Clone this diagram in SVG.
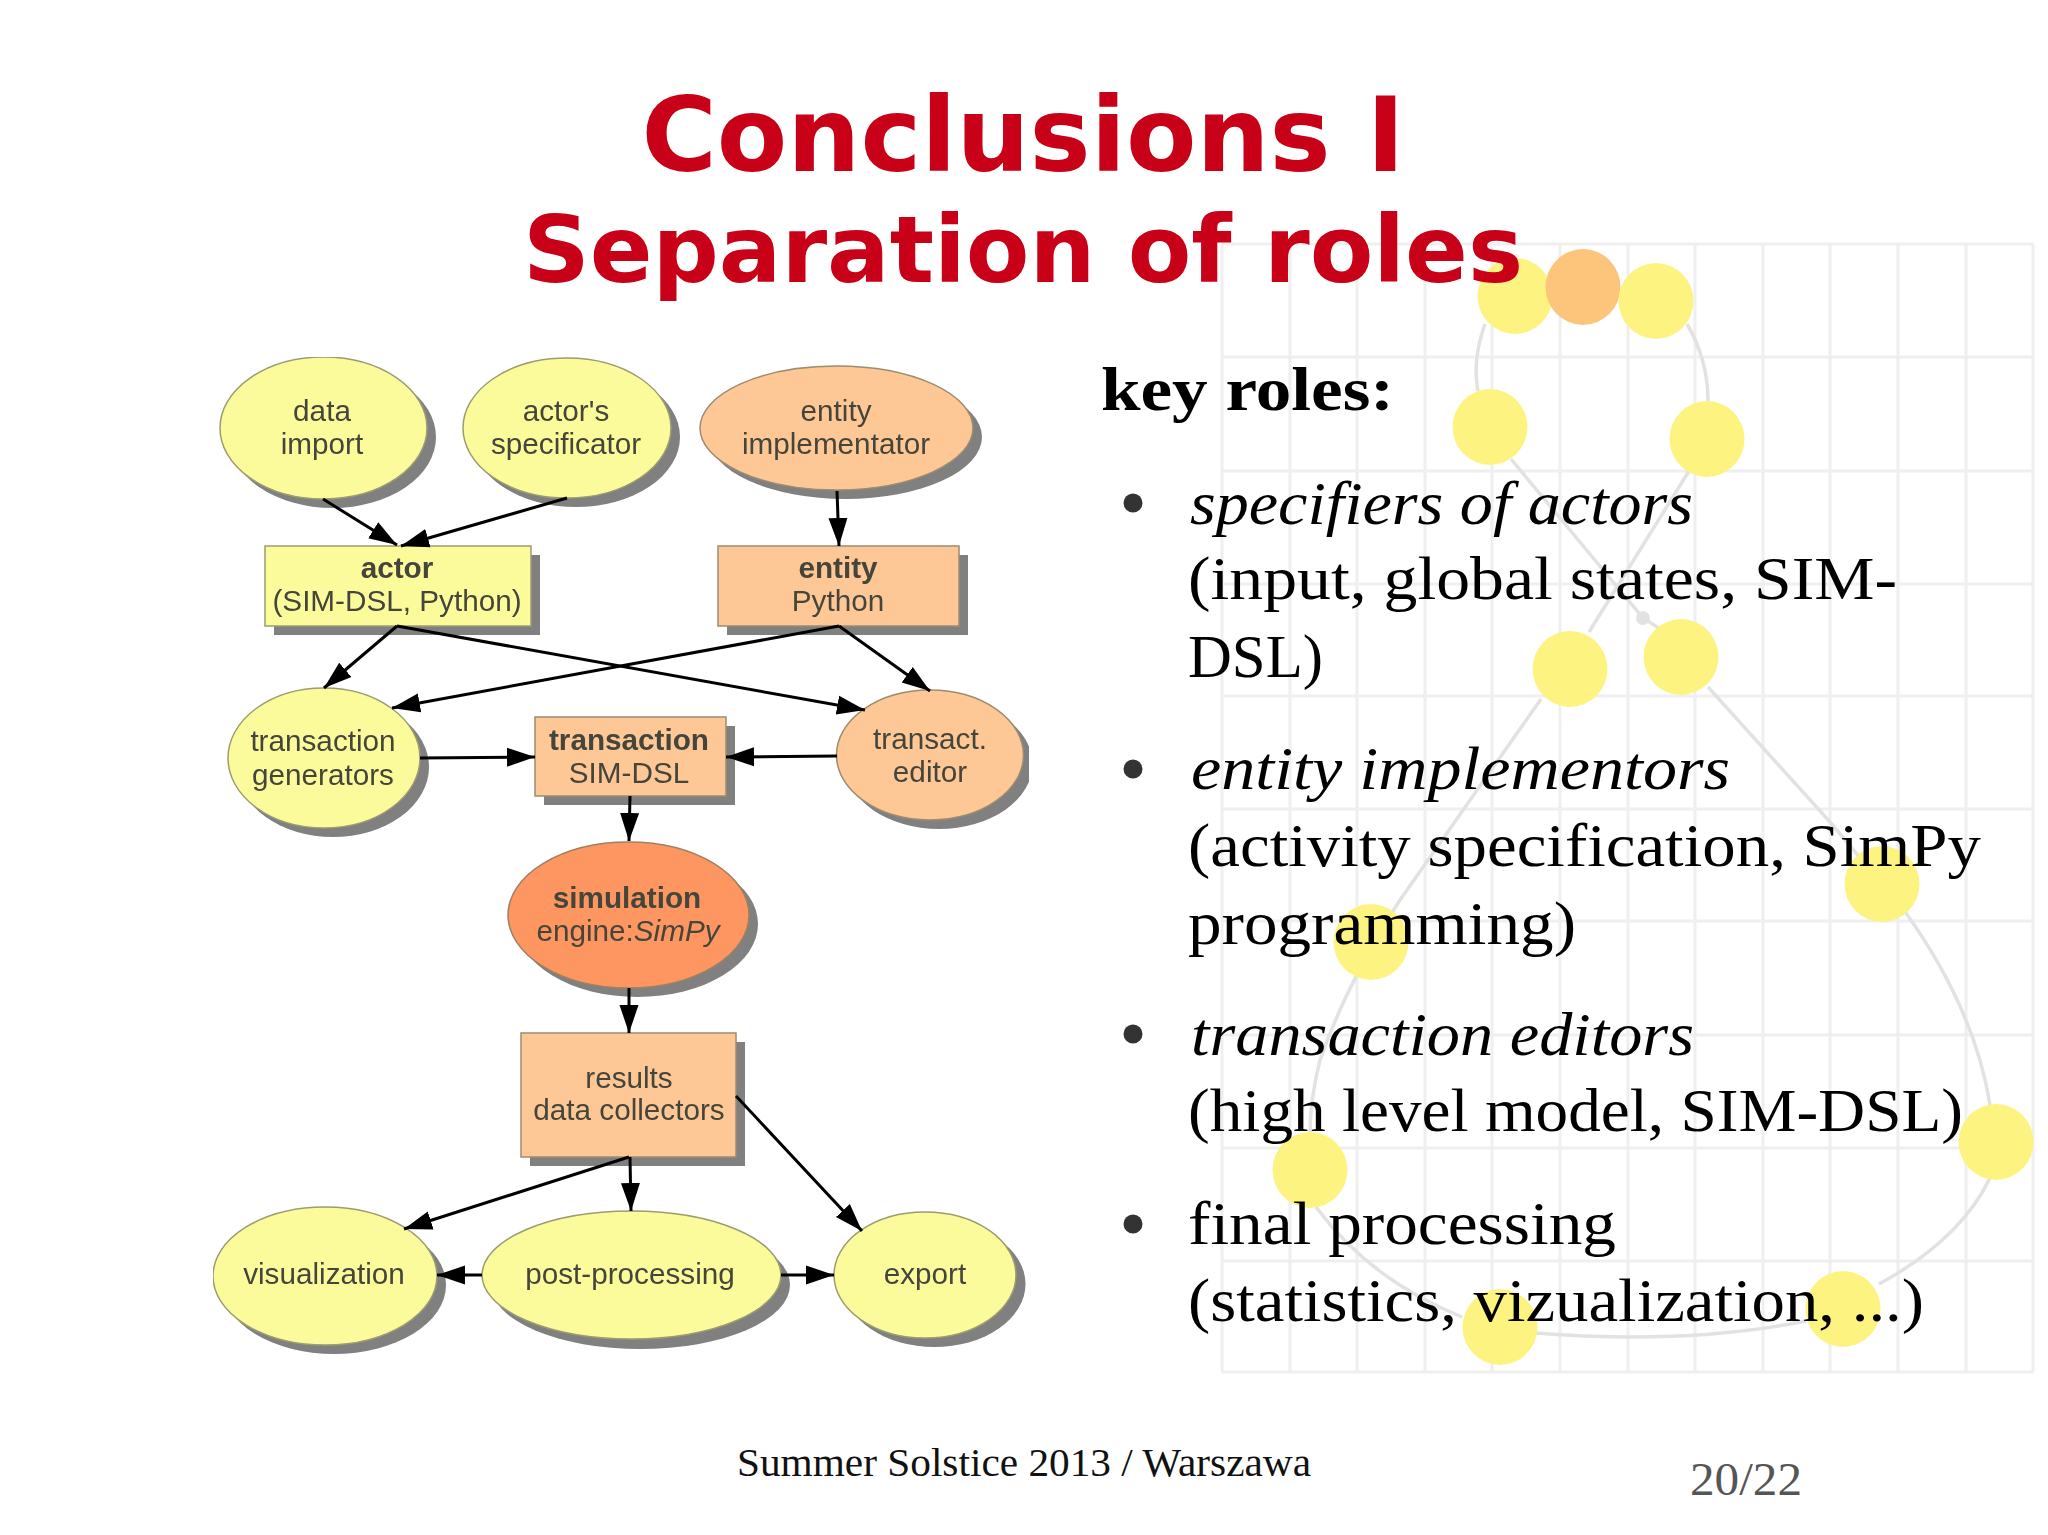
<svg xmlns="http://www.w3.org/2000/svg" width="2048" height="1535" viewBox="0 0 2048 1535">
<style>
.bgl{stroke:#efefef;stroke-width:3;fill:none}
.cv{stroke:#e2e2e2;stroke-width:3.5;fill:none}
.by{fill:#fdf380}
.sh{fill:#808080}
.y{fill:#fbfb9c;stroke:#9c9c70;stroke-width:1.5}
.o{fill:#fdc896;stroke:#9c8c70;stroke-width:1.5}
.s{fill:#fd9660;stroke:#a08060;stroke-width:1.5}
.n{font-family:"Liberation Sans",Arial,sans-serif;font-size:29.700px;fill:#45453a;text-anchor:middle}
.b{font-weight:bold}
.c{stroke:#000;stroke-width:3;fill:none;marker-end:url(#a)}
.t{font-family:"DejaVu Sans",sans-serif;font-weight:bold;fill:#c80018;text-anchor:middle}
.r{font-family:"Liberation Serif",serif;font-size:62px;fill:#000}
.i{font-style:italic}
</style>
<defs>
<marker id="a" markerUnits="userSpaceOnUse" markerWidth="30" markerHeight="22" refX="28" refY="10" orient="auto"><path d="M0 0.500L28 10L0 19.500Z" fill="#000"/></marker>
<clipPath id="cp"><rect x="0" y="0" width="1029" height="1535"/></clipPath>
<filter id="soft" x="0" y="0" width="100%" height="100%"><feGaussianBlur stdDeviation="0.5"/></filter>
</defs>
<rect width="2048" height="1535" fill="#fff"/>
<g id="background">
<path class="bgl" d="M1222 244H2033M1222 357H2033M1222 471H2033M1222 584H2033M1222 696H2033M1222 809H2033M1222 921H2033M1222 1035H2033M1222 1148H2033M1222 1261H2033M1222 1372H2033"/>
<path class="bgl" d="M1222 244V1372M1290 244V1372M1357 244V1372M1425 244V1372M1492 244V1372M1560 244V1372M1628 244V1372M1695 244V1372M1763 244V1372M1830 244V1372M1898 244V1372M1966 244V1372M2033 244V1372"/>
<path class="cv" d="M1485 324Q1472 360 1478 391"/>
<path class="cv" d="M1687 324Q1708 360 1708 401"/>
<path class="cv" d="M1511 459L1643 618L1665 632"/>
<path class="cv" d="M1689 471L1589 632"/>
<path class="cv" d="M1541 699L1400 900Q1346 985 1320 1060Q1310 1100 1310 1133"/>
<path class="cv" d="M1708 687L1830 822L1906 913Q1975 1010 1990 1105"/>
<path class="cv" d="M1990 1178Q1960 1240 1879 1284"/>
<path class="cv" d="M1316 1207Q1370 1280 1462 1317"/>
<path class="cv" d="M1535 1333Q1687 1345 1806 1321"/>
<circle cx="1643" cy="618" r="7" fill="#e2e2e2"/>
<ellipse class="by" cx="1515" cy="296" rx="37.500" ry="38"/>
<ellipse cx="1583" cy="287" rx="37.500" ry="38" fill="#fdc47c"/>
<ellipse class="by" cx="1656" cy="301" rx="37.500" ry="38"/>
<ellipse class="by" cx="1490" cy="427" rx="37.500" ry="38"/>
<ellipse class="by" cx="1707" cy="439" rx="37.500" ry="38"/>
<ellipse class="by" cx="1570" cy="669" rx="37.500" ry="38"/>
<ellipse class="by" cx="1681" cy="657" rx="37.500" ry="38"/>
<ellipse class="by" cx="1882" cy="884" rx="37.500" ry="38"/>
<ellipse class="by" cx="1371" cy="942" rx="37.500" ry="38"/>
<ellipse class="by" cx="1310" cy="1170" rx="37.500" ry="38"/>
<ellipse class="by" cx="1996" cy="1142" rx="37.500" ry="38"/>
<ellipse class="by" cx="1500" cy="1327" rx="37.500" ry="38"/>
<ellipse class="by" cx="1843" cy="1309" rx="37.500" ry="38"/>
</g>
<g id="title">
<text class="t" x="1023" y="171" font-size="102.700">Conclusions I</text>
<text class="t" x="1023" y="282" font-size="92.700">Separation of roles</text>
</g>
<g clip-path="url(#cp)" filter="url(#soft)">
<g id="data-import"><ellipse class="sh" cx="332.500" cy="437" rx="103.500" ry="71"/><ellipse class="y" cx="323.500" cy="428" rx="103.500" ry="71"/><text class="n" x="322" y="421">data</text><text class="n" x="322" y="454">import</text></g>
<g id="actors-specificator"><ellipse class="sh" cx="576" cy="437" rx="104" ry="70"/><ellipse class="y" cx="567" cy="428" rx="104" ry="70"/><text class="n" x="566" y="421">actor's</text><text class="n" x="566" y="454">specificator</text></g>
<g id="entity-implementator"><ellipse class="sh" cx="845.500" cy="437" rx="136.500" ry="62"/><ellipse class="o" cx="836.500" cy="428" rx="136.500" ry="62"/><text class="n" x="836" y="421">entity</text><text class="n" x="836" y="454">implementator</text></g>
<g id="actor"><rect class="sh" x="274" y="555" width="266" height="80"/><rect class="y" x="265" y="546" width="266" height="80"/><text class="n b" x="397" y="578">actor</text><text class="n" x="397" y="611">(SIM-DSL, Python)</text></g>
<g id="entity"><rect class="sh" x="727" y="555" width="241" height="80"/><rect class="o" x="718" y="546" width="241" height="80"/><text class="n b" x="838" y="578">entity</text><text class="n" x="838" y="611">Python</text></g>
<g id="transaction-generators"><ellipse class="sh" cx="333" cy="767" rx="96" ry="70"/><ellipse class="y" cx="324" cy="758" rx="96" ry="70"/><text class="n" x="323" y="751">transaction</text><text class="n" x="323" y="785">generators</text></g>
<g id="transaction"><rect class="sh" x="544" y="726" width="191" height="79"/><rect class="o" x="535" y="717" width="191" height="79"/><text class="n b" x="629" y="750">transaction</text><text class="n" x="629" y="783">SIM-DSL</text></g>
<g id="transact-editor"><ellipse class="sh" cx="939" cy="764" rx="93.500" ry="65"/><ellipse class="o" cx="930" cy="755" rx="93.500" ry="65"/><text class="n" x="930" y="749">transact.</text><text class="n" x="930" y="782">editor</text></g>
<g id="simulation"><ellipse class="sh" cx="637.500" cy="924" rx="120.500" ry="73"/><ellipse class="s" cx="628.500" cy="915" rx="120.500" ry="73"/><text class="n b" x="627" y="908">simulation</text><text class="n" x="628" y="941">engine:<tspan font-style="italic">SimPy</tspan></text></g>
<g id="results"><rect class="sh" x="530" y="1042" width="215" height="124"/><rect class="o" x="521" y="1033" width="215" height="124"/><text class="n" x="629" y="1088">results</text><text class="n" x="629" y="1120">data collectors</text></g>
<g id="visualization"><ellipse class="sh" cx="334" cy="1285" rx="112" ry="69"/><ellipse class="y" cx="325" cy="1276" rx="112" ry="69"/><text class="n" x="324" y="1284">visualization</text></g>
<g id="post-processing"><ellipse class="sh" cx="640.500" cy="1285" rx="149.500" ry="64"/><ellipse class="y" cx="631.500" cy="1275" rx="149.500" ry="64"/><text class="n" x="630" y="1284">post-processing</text></g>
<g id="export"><ellipse class="sh" cx="934.500" cy="1284" rx="91" ry="63"/><ellipse class="y" cx="925" cy="1275" rx="91" ry="63"/><text class="n" x="925" y="1284">export</text></g>
<g id="connectors">
<path class="c" d="M323 499L397 545"/>
<path class="c" d="M567 498L401 546"/>
<path class="c" d="M837 491L839 546"/>
<path class="c" d="M397 626L324 688"/>
<path class="c" d="M397 626L865 710"/>
<path class="c" d="M839 626L392 708"/>
<path class="c" d="M839 626L930 691"/>
<path class="c" d="M420 758L535 757"/>
<path class="c" d="M837 756L726 757"/>
<path class="c" d="M630 796L629 841"/>
<path class="c" d="M629 988L629 1033"/>
<path class="c" d="M629 1157L404 1229"/>
<path class="c" d="M630 1157L631 1211"/>
<path class="c" d="M736 1096L862 1231"/>
<path class="c" d="M482 1275L437 1275"/>
<path class="c" d="M781 1275L834 1275"/>
</g>
</g>
<g id="roles">
<text class="r b" x="1101" y="410" font-size="66" font-weight="bold" textLength="293" lengthAdjust="spacingAndGlyphs">key roles:</text>
<circle cx="1133" cy="503" r="9.500" fill="#333"/>
<circle cx="1133" cy="769" r="9.500" fill="#333"/>
<circle cx="1133" cy="1034" r="9.500" fill="#333"/>
<circle cx="1133" cy="1224" r="9.500" fill="#333"/>
<text class="r i" x="1190" y="524" textLength="503" lengthAdjust="spacingAndGlyphs">specifiers of actors</text>
<text class="r" x="1188" y="599" textLength="709" lengthAdjust="spacingAndGlyphs">(input, global states, SIM-</text>
<text class="r" x="1188" y="677" textLength="135" lengthAdjust="spacingAndGlyphs">DSL)</text>
<text class="r i" x="1191" y="789" textLength="539" lengthAdjust="spacingAndGlyphs">entity implementors</text>
<text class="r" x="1188" y="866" textLength="793" lengthAdjust="spacingAndGlyphs">(activity specification, SimPy</text>
<text class="r" x="1188" y="944" textLength="388" lengthAdjust="spacingAndGlyphs">programming)</text>
<text class="r i" x="1191" y="1055" textLength="503" lengthAdjust="spacingAndGlyphs">transaction editors</text>
<text class="r" x="1188" y="1131" textLength="775" lengthAdjust="spacingAndGlyphs">(high level model, SIM-DSL)</text>
<text class="r" x="1188" y="1244" textLength="428" lengthAdjust="spacingAndGlyphs">final processing</text>
<text class="r" x="1188" y="1321" textLength="736" lengthAdjust="spacingAndGlyphs">(statistics, vizualization, ...)</text>
</g>
<g id="footer">
<text x="737" y="1476" font-family="Liberation Serif, serif" font-size="40" fill="#111" textLength="574" lengthAdjust="spacingAndGlyphs">Summer Solstice 2013 / Warszawa</text>
<text x="1690" y="1495" font-family="Liberation Serif, serif" font-size="46" fill="#555" textLength="112" lengthAdjust="spacingAndGlyphs">20/22</text>
</g>
</svg>
